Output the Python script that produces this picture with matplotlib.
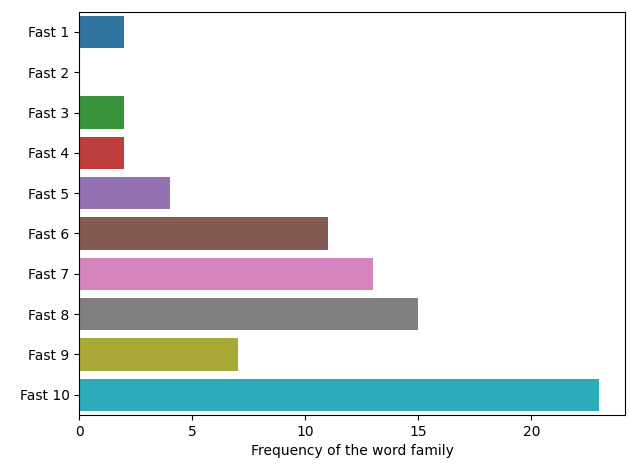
import matplotlib
matplotlib.use("Agg")
import matplotlib.pyplot as plt
import seaborn as sns

categories = ["Fast 1", "Fast 2", "Fast 3", "Fast 4", "Fast 5", "Fast 6", "Fast 7", "Fast 8", "Fast 9", "Fast 10"]
values = [2, 0, 2, 2, 4, 11, 13, 15, 7, 23]

fig = plt.figure(figsize=(6.29, 4.72), dpi=100)
ax = fig.add_axes([0.126, 0.121, 0.868, 0.854])
sns.barplot(x=values, y=categories, hue=categories, palette="tab10", legend=False, ax=ax, saturation=0.75)
ax.set_xlabel("Frequency of the word family")
ax.set_ylabel("")
ax.set_xticks([0, 5, 10, 15, 20])
fig.savefig("out.png", dpi=100)
